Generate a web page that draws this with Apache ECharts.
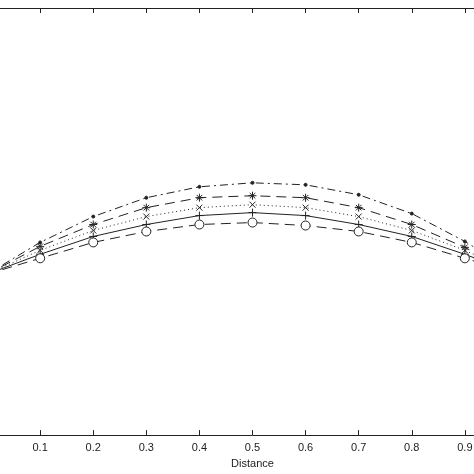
<!DOCTYPE html>
<html><head><meta charset="utf-8">
<script src="https://cdn.jsdelivr.net/npm/echarts@6/dist/echarts.min.js"></script>
<style>html,body{margin:0;background:#fff;overflow:hidden;width:474px;height:474px}#c{position:absolute;left:-19px;top:0;width:543px;height:474px}</style>
</head><body><div id="c"></div>
<script>
// x positions along the distance axis
var distance = [0, 0.1, 0.2, 0.3, 0.4, 0.5, 0.6, 0.7, 0.8, 0.9, 1.0];
// values (arbitrary units, no y labels visible)
var dotDash = [16.2, 19.4, 22.0, 23.9, 25.0, 25.4, 25.2, 24.2, 22.3, 19.5, 16.2];
var starDash = [16.2, 19.0, 21.2, 22.9, 23.9, 24.1, 23.9, 22.9, 21.2, 18.9, 16.2];
var crossDot = [16.2, 18.6, 20.6, 22.0, 22.9, 23.2, 22.9, 22.0, 20.6, 18.6, 16.2];
var plusSolid = [16.2, 18.2, 20.0, 21.2, 22.1, 22.4, 22.1, 21.2, 20.0, 18.2, 16.2];
var circleDash = [16.2, 17.8, 19.4, 20.5, 21.2, 21.4, 21.1, 20.5, 19.4, 17.8, 16.2];

var plus = 'path://M5,0L5,10M0,5L10,5';
var cross = 'path://M0,0L10,10M10,0L0,10';
var star = 'path://M5,0L5,10M0,5L10,5M1.5,1.5L8.5,8.5M8.5,1.5L1.5,8.5';

function mk(vals, sym, size, dash, fill) {
  return {
    type: 'line',
    data: vals.map(function (v, i) {
      var d = { value: [distance[i], v] };
      if (i === 0 || i === vals.length - 1) d.symbol = 'none';
      return d;
    }),
    symbol: sym, symbolSize: size, showSymbol: true,
    lineStyle: { color: '#222', width: 1, type: dash },
    itemStyle: { color: fill, borderColor: '#222', borderWidth: 1 },
    animation: false, z: 3
  };
}

var chart = echarts.init(document.getElementById('c'));
chart.setOption({
  animation: false,
  grid: { left: 0, right: 0, top: 8, bottom: 35 },
  xAxis: [{
    type: 'value', min: 0, max: 1, interval: 0.1,
    name: 'Distance', nameLocation: 'middle', nameGap: 20,
    nameTextStyle: { fontFamily: 'Liberation Sans', fontSize: 11, color: '#222' },
    axisLine: { lineStyle: { color: '#222' } },
    axisTick: { inside: true, length: 5, lineStyle: { color: '#222' } },
    axisLabel: { fontFamily: 'Liberation Sans', fontSize: 11, color: '#222', margin: 7 },
    splitLine: { show: false }
  }, {
    type: 'value', min: 0, max: 1, interval: 0.1, position: 'top',
    axisLine: { lineStyle: { color: '#222' } },
    axisTick: { inside: true, length: 5, lineStyle: { color: '#222' } },
    axisLabel: { show: false }, splitLine: { show: false }
  }],
  yAxis: { type: 'value', min: 0, max: 43, axisLabel: { show: false }, splitLine: { show: false },
    axisTick: { show: false }, axisLine: { show: false } },
  series: [
    mk(dotDash, 'circle', 3, [8, 4, 2, 4], '#222'),
    mk(starDash, star, 8, [10, 6], 'none'),
    mk(crossDot, cross, 6, [1, 3], 'none'),
    mk(plusSolid, plus, 8, 'solid', 'none'),
    mk(circleDash, 'circle', 9, [10, 6], '#fff')
  ]
});
</script></body></html>
